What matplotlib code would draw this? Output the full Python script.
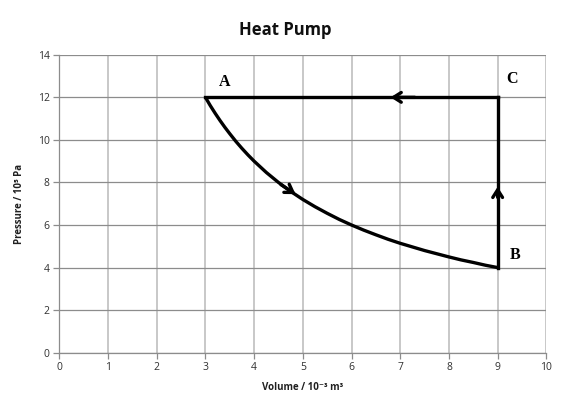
import matplotlib
matplotlib.use("Agg")
import matplotlib.pyplot as plt

# Data
curve_v = [3.0, 3.1, 3.2, 3.3, 3.4, 3.5, 3.625, 3.75, 3.875, 4.0, 4.25, 4.5, 4.75, 5.0, 5.25,
           5.5, 5.75, 6.0, 6.25, 6.5, 6.75, 7.0, 7.25, 7.5, 7.75, 8.0, 8.25, 8.5, 8.75, 9.0]
curve_p = [12.0, 11.61, 11.25, 10.91, 10.59, 10.29, 9.93, 9.6, 9.29, 9.0, 8.47, 8.0, 7.58, 7.2, 6.86,
           6.55, 6.26, 6.0, 5.76, 5.54, 5.33, 5.14, 4.97, 4.8, 4.65, 4.5, 4.36, 4.24, 4.11, 4.0]
bc_v = [9.0, 9.0]
bc_p = [4.0, 12.0]
ca_v = [9.0, 3.0]
ca_p = [12.0, 12.0]
point_labels = ["A", "B", "C"]
point_v = [3.0, 9.0, 9.0]
point_p = [12.0, 4.0, 12.0]
# arrow (tail, head) positions along the cycle
arrow_tail = [(4.55, 7.9), (9.0, 7.3), (7.3, 12.0)]
arrow_head = [(4.85, 7.45), (9.0, 7.8), (6.8, 12.0)]

x_ticks = list(range(0, 11))
y_ticks = list(range(0, 15, 2))

fig = plt.figure(figsize=(5.65, 3.97), dpi=100)
ax = fig.add_axes([0.105, 0.1116, 0.862, 0.7504])

ax.set_xlim(0, 10)
ax.set_ylim(0, 14)
ax.set_xticks(x_ticks)
ax.set_yticks(y_ticks)

for x in x_ticks:
    ax.axvline(x, color="#c4c4c4", lw=1.3, zorder=0)
for y in y_ticks:
    ax.axhline(y, color="#8c8c8c", lw=0.9, zorder=0)

for s in ["top", "right"]:
    ax.spines[s].set_visible(False)
for s in ["left", "bottom"]:
    ax.spines[s].set_color("#8c8c8c")
    ax.spines[s].set_linewidth(0.9)

ax.tick_params(axis="both", direction="out", length=4, width=0.9, color="#8c8c8c",
               labelsize=7.5, labelcolor="#303030", pad=3)
for lbl in ax.get_xticklabels() + ax.get_yticklabels():
    lbl.set_family(["Open Sans", "DejaVu Sans"])

lw = 2.4
ax.plot(curve_v, curve_p, color="black", lw=lw, solid_capstyle="butt",
        solid_joinstyle="round", zorder=3)
ax.plot(bc_v, bc_p, color="black", lw=lw, solid_capstyle="projecting", zorder=3)
ax.plot(ca_v, ca_p, color="black", lw=lw, solid_capstyle="projecting", zorder=3)

for t, h in zip(arrow_tail, arrow_head):
    ax.annotate("", xy=h, xytext=t,
                arrowprops=dict(arrowstyle="->,head_length=0.55,head_width=0.35",
                                color="black", lw=lw, shrinkA=0, shrinkB=0),
                zorder=4)

offsets = {"A": (0.4, 0.7), "B": (0.35, 0.6), "C": (0.3, 0.85)}
for name, v, p in zip(point_labels, point_v, point_p):
    dx, dy = offsets[name]
    ax.text(v + dx, p + dy, name, family="Liberation Serif", fontweight="bold",
            fontsize=11.5, color="black", ha="center", va="center")

ax.set_xlabel("Volume / 10⁻³ m³", family=["Open Sans", "DejaVu Sans"], fontweight="bold",
              fontsize=7, color="#202020", labelpad=6)
ax.set_ylabel("Pressure / 10⁵ Pa", family=["Open Sans", "DejaVu Sans"], fontweight="bold",
              fontsize=7, color="#202020", labelpad=9)

fig.text(0.505, 0.925, "Heat Pump", family=["Open Sans", "DejaVu Sans"], fontweight="bold",
         fontsize=12, ha="center", va="center", color="#101010")

fig.savefig("out.png", dpi=100)
